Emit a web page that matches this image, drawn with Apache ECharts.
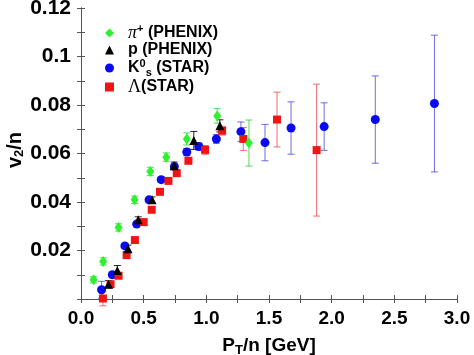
<!DOCTYPE html>
<html>
<head>
<meta charset="utf-8">
<script src="https://cdn.jsdelivr.net/npm/echarts@6/dist/echarts.min.js"></script>
<style>html,body{margin:0;padding:0;background:#fff}#c{width:474px;height:355px}</style>
</head>
<body>
<div id="c"></div>
<script>
// pi+ (PHENIX)
var piX = [0.10, 0.177, 0.30, 0.428, 0.553, 0.68, 0.844, 1.087, 1.34];
var piY = [0.0079, 0.0155, 0.0295, 0.0409, 0.0526, 0.0585, 0.066, 0.0755, 0.0643];
var piErr = [0.0013, 0.0015, 0.0015, 0.0015, 0.0017, 0.0017, 0.0025, 0.003, 0.0095];
// p (PHENIX)
var pX = [0.22, 0.29, 0.375, 0.457, 0.567, 0.743, 0.90, 1.108];
var pY = [0.0061, 0.0118, 0.0207, 0.0327, 0.0409, 0.055, 0.0654, 0.0714];
var pErr = [0.0015, 0.002, 0.0015, 0.0012, 0.0012, 0.0015, 0.0037, 0.0025];
// K0s (STAR)
var kX = [0.164, 0.25, 0.35, 0.444, 0.543, 0.64, 0.745, 0.844, 0.94, 1.08, 1.276, 1.468, 1.676, 1.94, 2.348, 2.82];
var kY = [0.0038, 0.010, 0.0219, 0.0309, 0.0409, 0.0492, 0.0546, 0.0606, 0.0629, 0.066, 0.069, 0.0645, 0.0705, 0.0711, 0.074, 0.0806];
var kErr = [0.0035, 0.001, 0.001, 0.001, 0.001, 0.001, 0.0012, 0.0015, 0.0015, 0.0018, 0.004, 0.0075, 0.0108, 0.0098, 0.018, 0.0282];
// Lambda (STAR)
var lX = [0.175, 0.236, 0.30, 0.364, 0.43, 0.50, 0.564, 0.63, 0.698, 0.764, 0.857, 0.99, 1.126, 1.295, 1.564, 1.88];
var lY = [0.0002, 0.0061, 0.0096, 0.0181, 0.0243, 0.0317, 0.0368, 0.0442, 0.0487, 0.0519, 0.057, 0.0615, 0.0694, 0.066, 0.074, 0.0614];
var lErr = [0.003, 0.001, 0.001, 0.001, 0.001, 0.001, 0.001, 0.001, 0.001, 0.001, 0.0012, 0.0018, 0.0018, 0.0047, 0.0113, 0.0272];

var names = ['π+ (PHENIX)', 'p (PHENIX)', 'K0s (STAR)', 'Λ(STAR)'];
var richNames = {
  'π+ (PHENIX)': '{sp|}{pi|π}{sup|+}{b| (PHENIX)}',
  'p (PHENIX)': '{sp|}{b|p (PHENIX)}',
  'K0s (STAR)': '{sp|}{b|K}{sup|0}{sub|s}{b| (STAR)}',
  'Λ(STAR)': '{sp|}{lam|Λ}{b|(STAR)}'
};

function pts(xs, ys) { return xs.map(function (x, i) { return [x, ys[i]]; }); }
function errPts(xs, ys, es) { return xs.map(function (x, i) { return [x, ys[i], es[i]]; }); }
function errRender(color) {
  return function (params, api) {
    var x = api.value(0), y = api.value(1), e = api.value(2);
    var t = api.coord([x, y + e]), b = api.coord([x, y - e]);
    var w = 3.5, st = { stroke: color, lineWidth: 1 };
    return { type: 'group', children: [
      { type: 'line', shape: { x1: t[0], y1: t[1], x2: b[0], y2: b[1] }, style: st },
      { type: 'line', shape: { x1: t[0] - w, y1: t[1], x2: t[0] + w, y2: t[1] }, style: st },
      { type: 'line', shape: { x1: b[0] - w, y1: b[1], x2: b[0] + w, y2: b[1] }, style: st }
    ] };
  };
}
function errSeries(id, xs, ys, es, color) {
  return { type: 'custom', name: id, renderItem: errRender(color), data: errPts(xs, ys, es),
    encode: { x: 0, y: 1 }, z: 1, silent: true };
}

var axisColor = '#555';
var F = 'Liberation Sans';
var chart = echarts.init(document.getElementById('c'), null, { renderer: 'canvas' });
chart.setOption({
  animation: false,
  grid: { left: 81, right: 17, top: 8, bottom: 56, containLabel: false, outerBoundsMode: 'none' },
  xAxis: [{
    type: 'value', min: 0, max: 3, interval: 0.25,
    axisLine: { lineStyle: { color: axisColor } },
    axisTick: { inside: true, length: 4, lineStyle: { color: axisColor } },
    splitLine: { show: false },
    axisLabel: { margin: 10, color: '#000', fontFamily: F, fontWeight: 'bold', fontSize: 19,
      formatter: function (v) { var k = Math.round(v * 100); return k % 50 ? '' : v.toFixed(1); } },
    name: '{a|P}{s|T}{a|/n [GeV]}', nameLocation: 'middle', nameGap: 36,
    nameTextStyle: { rich: {
      a: { fontFamily: F, fontWeight: 'bold', fontSize: 19, color: '#000', lineHeight: 22 },
      s: { fontFamily: F, fontWeight: 'bold', fontSize: 13, color: '#000', verticalAlign: 'bottom', lineHeight: 22 }
    } }
  }, {
    type: 'value', position: 'top', min: 0, max: 3, interval: 0.25,
    axisLine: { show: true, lineStyle: { color: axisColor } },
    axisTick: { show: true, inside: true, length: 4, lineStyle: { color: axisColor } },
    axisLabel: { show: false }, splitLine: { show: false }
  }],
  yAxis: [{
    type: 'value', min: 0, max: 0.12, interval: 0.01,
    axisLine: { show: true, lineStyle: { color: axisColor } },
    axisTick: { show: true, inside: true, length: 4, lineStyle: { color: axisColor } },
    splitLine: { show: false },
    axisLabel: { margin: 10, color: '#000', fontFamily: F, fontWeight: 'bold', fontSize: 21,
      formatter: function (v) { var k = Math.round(v * 100); return (k === 0 || k % 2) ? '' : String(k / 100); } }
  }, {
    type: 'value', position: 'right', min: 0, max: 0.12, interval: 0.01,
    axisLine: { show: true, lineStyle: { color: axisColor } },
    axisTick: { show: true, inside: true, length: 4, lineStyle: { color: axisColor } },
    axisLabel: { show: false }, splitLine: { show: false }
  }],
  legend: {
    orient: 'vertical', left: 100, top: 18, itemGap: 0, itemWidth: 9, itemHeight: 9,
    data: [
      { name: names[0], icon: 'diamond' },
      { name: names[1], icon: 'triangle' },
      { name: names[2], icon: 'circle' },
      { name: names[3], icon: 'rect' }
    ],
    formatter: function (n) { return richNames[n]; },
    textStyle: { rich: {
      sp: { width: 9, lineHeight: 20 },
      pi: { fontFamily: 'Liberation Serif', fontStyle: 'italic', fontSize: 18, color: '#000', lineHeight: 20 },
      lam: { fontFamily: 'Liberation Serif', fontSize: 18, color: '#000', lineHeight: 20 },
      b: { fontFamily: F, fontWeight: 'bold', fontSize: 16, color: '#000', lineHeight: 20 },
      sup: { fontFamily: F, fontWeight: 'bold', fontSize: 11, color: '#000', verticalAlign: 'top', lineHeight: 20 },
      sub: { fontFamily: F, fontWeight: 'bold', fontSize: 11, color: '#000', verticalAlign: 'bottom', lineHeight: 20 }
    } }
  },
  graphic: [{
    type: 'text', x: 4, y: 150, rotation: Math.PI / 2,
    style: { text: '{a|v}{s|2}{a|/n}', align: 'center', verticalAlign: 'top',
      rich: {
        a: { fontFamily: F, fontWeight: 'bold', fontSize: 20, fill: '#000', lineHeight: 22 },
        s: { fontFamily: F, fontWeight: 'bold', fontSize: 13, fill: '#000', verticalAlign: 'bottom', lineHeight: 22 }
      } }
  }],
  series: [
    errSeries('kErr', kX, kY, kErr, 'rgba(60,60,220,0.75)'),
    errSeries('lErr', lX, lY, lErr, 'rgba(235,60,60,0.75)'),
    errSeries('pErr', pX, pY, pErr, 'rgba(0,0,0,0.85)'),
    errSeries('piErr', piX, piY, piErr, 'rgba(40,210,40,0.8)'),
    { type: 'scatter', name: names[2], data: pts(kX, kY), symbol: 'circle', symbolSize: 9,
      itemStyle: { color: '#0a0af0', opacity: 1 }, z: 2 },
    { type: 'scatter', name: names[3], data: pts(lX, lY), symbol: 'rect', symbolSize: 8,
      itemStyle: { color: '#f01515', opacity: 1 }, z: 2 },
    { type: 'scatter', name: names[1], data: pts(pX, pY), symbol: 'triangle', symbolSize: 9,
      itemStyle: { color: '#000', opacity: 1 }, z: 2 },
    { type: 'scatter', name: names[0], data: pts(piX, piY), symbol: 'diamond', symbolSize: [8, 11],
      itemStyle: { color: '#2ef02e', opacity: 1 }, z: 2 }
  ]
});
</script>
</body>
</html>
